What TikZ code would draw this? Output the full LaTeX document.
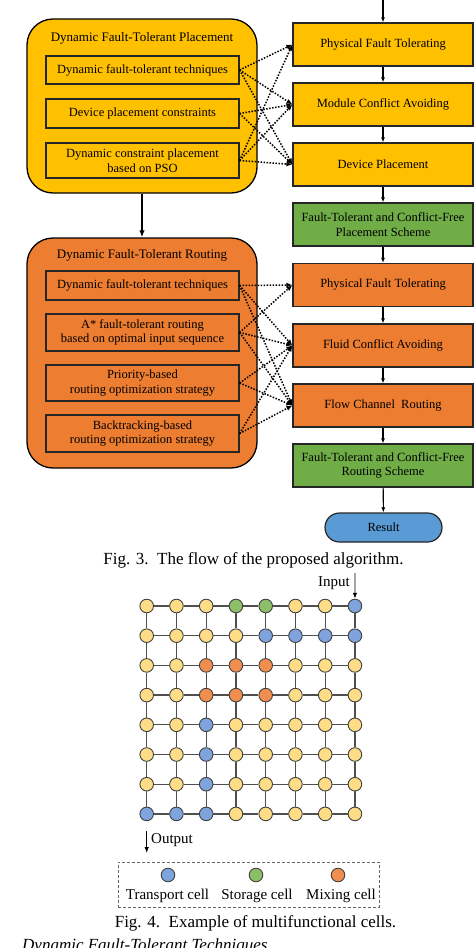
\documentclass[tikz,border=0pt]{standalone}
\usepackage{fontspec}
\setmainfont{Liberation Serif}
\usepackage{tikz}
\usetikzlibrary{arrows.meta}
\definecolor{placeYellow}{HTML}{FFC000}
\definecolor{routeOrange}{HTML}{ED7D31}
\definecolor{schemeGreen}{HTML}{70AD47}
\definecolor{resultBlue}{HTML}{5B9BD5}
\definecolor{cellY}{HTML}{FEDD86}
\definecolor{cellB}{HTML}{7EA3DD}
\definecolor{cellG}{HTML}{8CC068}
\definecolor{cellO}{HTML}{EF8E4F}
\definecolor{gridGray}{HTML}{4F4F4F}

\begin{document}
\begin{tikzpicture}[x=1pt,y=-1pt,
    stagebox/.style={draw=black!85,line width=1.2pt,minimum width=180pt,minimum height=43pt,inner sep=0pt,align=center,font=\fontsize{12.5}{14.5}\selectfont},
    techbox/.style={draw=black!85,line width=1.2pt,minimum width=193pt,inner sep=0pt,align=center,font=\fontsize{12.5}{14.5}\selectfont},
    groupbox/.style={draw=black,line width=1.3pt,rounded corners=26pt,minimum width=230pt},
    grouptitle/.style={font=\fontsize{13}{15}\selectfont},
    flowarrow/.style={-{Latex[length=5pt,width=4pt]},line width=1.1pt},
    linkarrow/.style={-{Latex[length=6pt,width=5pt]},line width=1.5pt,dash pattern=on 1.5pt off 1.5pt},
    cell/.style={circle,draw=black!75,line width=0.9pt,minimum size=13.6pt,inner sep=0pt},
    gridline/.style={draw=gridGray,line width=1.3pt},
    legendtext/.style={font=\fontsize{15}{17}\selectfont,inner sep=0pt},
    caption/.style={font=\fontsize{17}{19}\selectfont,inner sep=0pt}]
    \useasboundingbox (0,0) rectangle (474,948);
    \clip (0,0) rectangle (474,948);

    \node[groupbox,fill=placeYellow,minimum height=174pt] (place) at (142,106){};
    \node[grouptitle] (placeTitle) at (142,38){Dynamic Fault-Tolerant Placement};
    \node[techbox,fill=placeYellow,minimum height=28pt] (pa) at (142.5,70){Dynamic fault-tolerant techniques};
    \node[techbox,fill=placeYellow,minimum height=29pt] (pb) at (142.5,113.5){Device placement constraints};
    \node[techbox,fill=placeYellow,minimum height=35pt] (pc) at (142.5,160.5){Dynamic constraint placement\\based on PSO};

    \node[groupbox,fill=routeOrange,minimum height=230pt] (route) at (142,353){};
    \node[grouptitle] (routeTitle) at (142,255){Dynamic Fault-Tolerant Routing};
    \node[techbox,fill=routeOrange,minimum height=29pt] (ra) at (142.5,285.5){Dynamic fault-tolerant techniques};
    \node[techbox,fill=routeOrange,minimum height=37pt] (rb) at (142.5,332.5){A* fault-tolerant routing\\based on optimal input sequence};
    \node[techbox,fill=routeOrange,minimum height=36pt] (rc) at (142.5,383){Priority-based\\routing optimization strategy};
    \node[techbox,fill=routeOrange,minimum height=37pt] (rd) at (142.5,433.5){Backtracking-based\\routing optimization strategy};

    \coordinate (start) at (383,0);
    \node[stagebox,fill=placeYellow] (pft1) at (383,44.5){Physical Fault Tolerating};
    \node[stagebox,fill=placeYellow] (mca) at (383,104.5){Module Conflict Avoiding};
    \node[stagebox,fill=placeYellow] (dp) at (383,164.5){Device Placement};
    \node[stagebox,fill=schemeGreen] (scheme1) at (383,224.5){Fault-Tolerant and Conflict-Free\\Placement Scheme};
    \node[stagebox,fill=routeOrange] (pft2) at (383,285){Physical Fault Tolerating};
    \node[stagebox,fill=routeOrange] (fca) at (383,345.5){Fluid Conflict Avoiding};
    \node[stagebox,fill=routeOrange] (fcr) at (383,405.5){Flow Channel\ \ Routing};
    \node[stagebox,fill=schemeGreen] (scheme2) at (383,465.5){Fault-Tolerant and Conflict-Free\\Routing Scheme};
    \node[stagebox,fill=resultBlue,minimum width=117pt,minimum height=29pt,rounded corners=14.5pt] (result) at (383.5,527.5){Result};

    \path [flowarrow](start) edge (pft1);
    \path [flowarrow](pft1) edge (mca);
    \path [flowarrow](mca) edge (dp);
    \path [flowarrow](dp) edge (scheme1);
    \path [flowarrow](scheme1) edge (pft2);
    \path [flowarrow](pft2) edge (fca);
    \path [flowarrow](fca) edge (fcr);
    \path [flowarrow](fcr) edge (scheme2);
    \path [flowarrow](scheme2) edge (result);
    \path [-{Latex[length=7pt,width=5.5pt]},line width=1.8pt](place) edge (route);

    \path [linkarrow](pa.east) edge (pft1.west);
    \path [linkarrow](pa.east) edge (mca.west);
    \path [linkarrow](pa.east) edge (dp.west);
    \path [linkarrow](pb.east) edge (mca.west);
    \path [linkarrow](pb.east) edge (dp.west);
    \path [linkarrow](pc.east) edge (pft1.west);
    \path [linkarrow](pc.east) edge (mca.west);
    \path [linkarrow](pc.east) edge (dp.west);

    \path [linkarrow](ra.east) edge (pft2.west);
    \path [linkarrow](ra.east) edge (fca.west);
    \path [linkarrow](ra.east) edge (fcr.west);
    \path [linkarrow](rb.east) edge (pft2.west);
    \path [linkarrow](rb.east) edge (fca.west);
    \path [linkarrow](rb.east) edge (fcr.west);
    \path [linkarrow](rc.east) edge (fca.west);
    \path [linkarrow](rc.east) edge (fcr.west);
    \path [linkarrow](rd.east) edge (fca.west);
    \path [linkarrow](rd.east) edge (fcr.west);

    \node[caption] (fig3) at (253.5,560){Fig. 3.\ \ The flow of the proposed algorithm.};

    \foreach \rowkinds [count=\j] in {{Y,Y,Y,G,G,Y,Y,B},{Y,Y,Y,Y,B,B,B,B},{Y,Y,O,O,O,Y,Y,Y},{Y,Y,O,O,O,Y,Y,Y},{Y,Y,B,Y,Y,Y,Y,Y},{Y,Y,B,Y,Y,Y,Y,Y},{Y,Y,B,Y,Y,Y,Y,Y},{B,B,B,Y,Y,Y,Y,Y}}
        \foreach \kind [count=\i] in \rowkinds
            \node[cell,fill=cell\kind] (c\i-\j) at ({146.7+29.75*(\i-1)},{606+29.7*(\j-1)}){};
    \foreach \i [evaluate=\i as \k using int(\i+1)] in {1,...,7}
        \foreach \j in {1,...,8}{
            \path [gridline](c\i-\j) edge (c\k-\j);
            \path [gridline](c\j-\i) edge (c\j-\k);
        }

    \coordinate (inTop) at (355,573);
    \node[legendtext,anchor=east] (inLabel) at (350,583){Input};
    \path [-{Latex[length=6pt,width=4.5pt]},line width=0.9pt](inTop) edge (c8-1);
    \coordinate (outTop) at (146.7,831);
    \coordinate (outEnd) at (146.7,853);
    \node[legendtext,anchor=west] (outLabel) at (151,840){Output};
    \path [-{Latex[length=6pt,width=4.5pt]},line width=0.9pt](outTop) edge (outEnd);

    \node[draw=black!60,densely dashed,line width=0.8pt,minimum width=261pt,minimum height=45pt] (legend) at (248.5,884.5){};
    \node[cell,fill=cellB] (keyB) at (168,875){};
    \node[cell,fill=cellG] (keyG) at (256,875){};
    \node[cell,fill=cellO] (keyO) at (338,875){};
    \node[legendtext] (keyBText) at (167.5,896){Transport cell};
    \node[legendtext] (keyGText) at (257,896){Storage cell};
    \node[legendtext] (keyOText) at (341,896){Mixing cell};

    \node[caption] (fig4) at (255.5,923){Fig. 4.\ \ Example of multifunctional cells.};
    \node[caption,anchor=base east] (secNum) at (4,950){\itshape C.};
    \node[caption,anchor=base west] (secTitle) at (22,950){\itshape Dynamic Fault-Tolerant Techniques};
\end{tikzpicture}
\end{document}
